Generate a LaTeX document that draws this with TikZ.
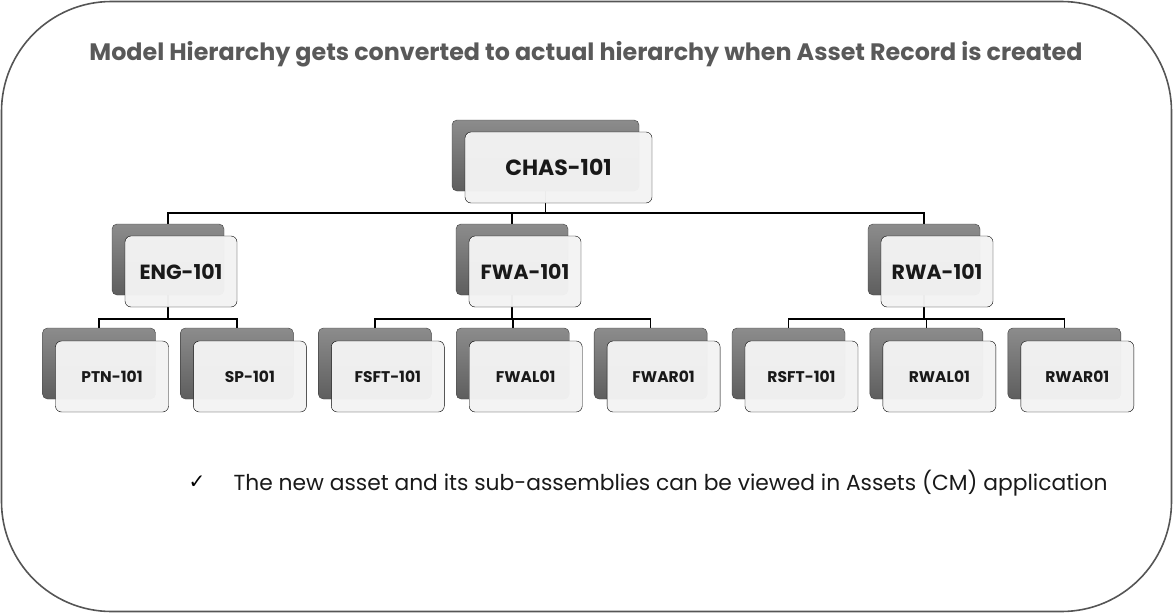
\documentclass[tikz,border=0pt]{standalone}
\usepackage{fontspec}
\setmainfont{Poppins}
\newfontfamily\symfont{DejaVu Sans}
\usepackage{xcolor}
\usetikzlibrary{positioning, backgrounds}

\definecolor{framegray}{HTML}{555555}
\definecolor{titlegray}{HTML}{595959}
\definecolor{backtop}{HTML}{8C8C8C}
\definecolor{backbot}{HTML}{5E5E5E}
\definecolor{frontfill}{HTML}{F3F3F3}

\begin{document}
\begin{tikzpicture}[
    x=1pt, y=-1pt,
    node distance=24.5pt,
    backbox/.style={draw=black!75, rounded corners=5pt, top color=backtop, bottom color=backbot, minimum height=71pt, inner sep=0pt},
    frontbox/.style={draw=black, rounded corners=6pt, fill=frontfill, fill opacity=0.97, text opacity=1, minimum height=71pt, inner sep=0pt, font=\bfseries, text=black!90},
    lvltop/.style={minimum width=187pt},
    lvlmid/.style={minimum width=112pt},
    lvlleaf/.style={minimum width=113pt},
    link/.style={draw=black, line width=1.6pt}
]
    \useasboundingbox (0,0) rectangle (1173,613);
    \draw[framegray, line width=1.6pt, rounded corners=110pt] (1.5,1.5) rectangle (1171.5,611.5);

    \node[font=\bfseries\fontsize{23.8}{28}\selectfont, text=titlegray] (title) at (586,54)
        {Model Hierarchy gets converted to actual hierarchy when Asset Record is created};

    % back boxes
    \node[backbox, lvltop] (chas) at (545.5,155.5) {};
    \node[backbox, lvlmid] (eng) at (168,259.5) {};
    \node[backbox, lvlmid] (fwa) at (512,259.5) {};
    \node[backbox, lvlmid] (rwa) at (924,259.5) {};

    \node[backbox, lvlleaf] (ptn) at (99,363.5) {};
    \node[backbox, lvlleaf, right=of ptn] (sp) {};
    \node[backbox, lvlleaf, right=of sp] (fsft) {};
    \node[backbox, lvlleaf, right=of fsft] (fwal) {};
    \node[backbox, lvlleaf, right=of fwal] (fwar) {};
    \node[backbox, lvlleaf, right=of fwar] (rsft) {};
    \node[backbox, lvlleaf, right=of rsft] (rwal) {};
    \node[backbox, lvlleaf, right=of rwal] (rwar) {};

    % front boxes
    \node[frontbox, lvltop, font=\bfseries\fontsize{22}{26}\selectfont] (chas-f) at ([shift={(13,12)}]chas.center) {CHAS-101};
    \node[frontbox, lvlmid, font=\bfseries\fontsize{20.5}{24}\selectfont] (eng-f) at ([shift={(13,12)}]eng.center) {ENG-101};
    \node[frontbox, lvlmid, font=\bfseries\fontsize{20.5}{24}\selectfont] (fwa-f) at ([shift={(13,12)}]fwa.center) {FWA-101};
    \node[frontbox, lvlmid, font=\bfseries\fontsize{20.5}{24}\selectfont] (rwa-f) at ([shift={(13,12)}]rwa.center) {RWA-101};
    \foreach \n/\t in {ptn/PTN-101, sp/SP-101, fsft/FSFT-101, fwal/FWAL01, fwar/FWAR01, rsft/RSFT-101, rwal/RWAL01, rwar/RWAR01}
        \node[frontbox, lvlleaf, font=\bfseries\fontsize{15.5}{18}\selectfont] (\n-f) at ([shift={(13,13)}]\n.center) {\t};

    % connectors
    \begin{scope}[on background layer]
        \foreach \c in {eng, fwa, rwa}
            \draw[link] (chas.south) -- ++(0,22) -| (\c.north);
        \foreach \c in {ptn, sp}
            \draw[link] (eng.south) -- ++(0,24) -| (\c.north);
        \foreach \c in {fsft, fwal, fwar}
            \draw[link] (fwa.south) -- ++(0,24) -| (\c.north);
        \foreach \c in {rsft, rwal, rwar}
            \draw[link] (rwa.south) -- ++(0,24) -| (\c.north);
    \end{scope}

    \node[font=\symfont\bfseries\fontsize{20}{24}\selectfont] (tick) at (197,482) {✓};
    \node[anchor=west, font=\fontsize{21.8}{26}\selectfont, text=black!90] (note) at (230,483)
        {The new asset and its sub-assemblies can be viewed in Assets (CM) application};
\end{tikzpicture}
\end{document}
